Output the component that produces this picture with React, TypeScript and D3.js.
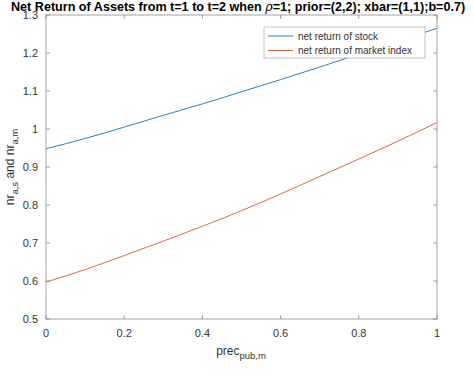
import React from "react";
import * as d3 from "d3";

const precValues = [0, 0.1, 0.2, 0.3, 0.4, 0.5, 0.6, 0.7, 0.8, 0.9, 1.0];
const stockReturn = [0.948, 0.975, 1.005, 1.036, 1.066, 1.098, 1.13, 1.163, 1.197, 1.231, 1.265];
const marketReturn = [0.597, 0.63, 0.667, 0.705, 0.744, 0.785, 0.829, 0.875, 0.921, 0.968, 1.017];
const xTicks = [0, 0.2, 0.4, 0.6, 0.8, 1];
const yTicks = [0.5, 0.6, 0.7, 0.8, 0.9, 1, 1.1, 1.2, 1.3];
const seriesNames = ["net return of stock", "net return of market index"];
const seriesColors = ["#2f7fbf", "#dc6a42"];

const W = 474;
const H = 380;
const L = 46, R = 437, T = 15, B = 319;

export default function App() {
  const x = d3.scaleLinear().domain([0, 1]).range([L, R]);
  const y = d3.scaleLinear().domain([0.5, 1.3]).range([B, T]);
  const line = d3
    .line<number>()
    .x((_, i) => x(precValues[i]))
    .y((d) => y(d))
    .curve(d3.curveMonotoneX);
  const series = [stockReturn, marketReturn];
  const font = "'Liberation Sans', Arial, Helvetica, sans-serif";
  const axisColor = "#8a8a8a";
  const textColor = "#333";

  return (
    <svg
      width={W}
      height={H}
      style={{ position: "absolute", left: 0, top: 0, background: "#fff" }}
      fontFamily={font}
    >
      <rect x={0} y={0} width={W} height={H} fill="#fff" />
      {/* title */}
      <text x={11} y={10.5} fontSize={12.6} fontWeight="bold" fill="#000">
        Net Return of Assets from t=1 to t=2 when{" "}
        <tspan fontStyle="italic" fontWeight="normal" fontFamily="'DejaVu Serif', serif">ρ</tspan>
        =1; prior=(2,2); xbar=(1,1);b=0.7)
      </text>

      {/* axes box */}
      <rect x={L} y={T} width={R - L} height={B - T} fill="none" stroke={axisColor} strokeWidth={0.8} />

      {/* x ticks */}
      {xTicks.map((t) => (
        <g key={"x" + t}>
          <line x1={x(t)} x2={x(t)} y1={B} y2={B - 4} stroke={axisColor} strokeWidth={0.8} />
          <line x1={x(t)} x2={x(t)} y1={T} y2={T + 4} stroke={axisColor} strokeWidth={0.8} />
          <text x={x(t)} y={337} fontSize={11} fill={textColor} textAnchor="middle">
            {String(t)}
          </text>
        </g>
      ))}

      {/* y ticks */}
      {yTicks.map((t) => (
        <g key={"y" + t}>
          <line x1={L} x2={L + 4} y1={y(t)} y2={y(t)} stroke={axisColor} strokeWidth={0.8} />
          <line x1={R} x2={R - 4} y1={y(t)} y2={y(t)} stroke={axisColor} strokeWidth={0.8} />
          <text x={38} y={y(t) + 4} fontSize={11} fill={textColor} textAnchor="end">
            {String(t)}
          </text>
        </g>
      ))}

      {/* series */}
      {series.map((s, i) => (
        <path key={i} d={line(s) || ""} fill="none" stroke={seriesColors[i]} strokeWidth={1} />
      ))}

      {/* x label */}
      <text x={241} y={355} fontSize={12} fill={textColor} textAnchor="middle">
        prec
        <tspan fontSize={9.5} dy={4}>pub,m</tspan>
      </text>

      {/* y label */}
      <text
        transform={`translate(14,${(T + B) / 2}) rotate(-90)`}
        fontSize={12}
        fill={textColor}
        textAnchor="middle"
      >
        nr
        <tspan fontSize={9.5} dy={4}>a,s</tspan>
        <tspan dy={-4}> and nr</tspan>
        <tspan fontSize={9.5} dy={4}>a,m</tspan>
      </text>

      {/* legend */}
      <rect x={264} y={27} width={161} height={31} fill="#fff" stroke="#b5b5b5" strokeWidth={0.8} />
      {seriesNames.map((n, i) => (
        <g key={n}>
          <line
            x1={268}
            x2={293}
            y1={36 + i * 14.5}
            y2={36 + i * 14.5}
            stroke={seriesColors[i]}
            strokeWidth={1}
          />
          <text x={298} y={36 + i * 14.5 + 3.5} fontSize={10} fill={textColor}>
            {n}
          </text>
        </g>
      ))}
    </svg>
  );
}
